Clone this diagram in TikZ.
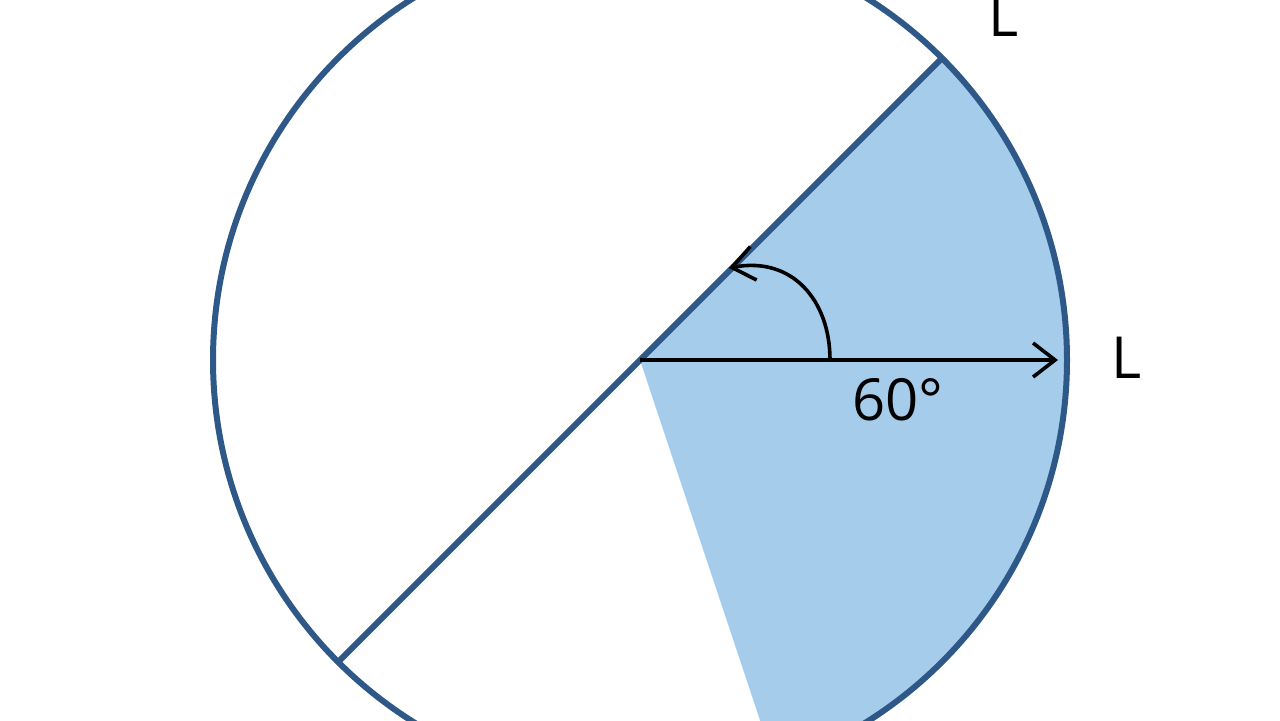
\documentclass[tikz,border=0pt]{standalone}
\usepackage{fontspec}
\setmainfont{Open Sans}
\usetikzlibrary{arrows.meta,calc}
\definecolor{rim}{RGB}{46,88,135}
\definecolor{sectorblue}{RGB}{166,204,235}
\tikzset{
  rimline/.style={draw=rim, line width=3pt},
  blackarrow/.style={draw=black, line width=1.8pt, -{Straight Barb[length=11pt,width=17pt,line width=1.8pt]}},
  lbl/.style={font=\fontsize{29}{34}\selectfont, inner sep=0pt}
}
\begin{document}
\begin{tikzpicture}[x=0.5pt,y=-0.5pt]
\useasboundingbox (0,0) rectangle (1280,720);
\clip (0,0) rectangle (1280,720);
\fill[white] (0,0) rectangle (1280,720);
\coordinate (O) at (640,360);
% shaded sector from -71.57 deg to 45 deg (math angles, y flipped)
\fill[sectorblue] (O) -- ++(-45:427) arc[start angle=-45, end angle=71.57, radius=427] -- cycle;
\draw[rimline] (O) circle[radius=427];
\coordinate (A) at ($(O)+(-45:427)$);
\coordinate (B) at ($(O)+(135:427)$);
\draw[rimline] (B) -- (A);
\coordinate (E) at (1058,360);
\draw[blackarrow] (O) -- (E);
\coordinate (S) at (830,360);
\coordinate (T) at (729,268);
\draw[blackarrow] (S) .. controls (830,300) and (792,256) .. (T);
\node[lbl] (L1) at (1004,16) {L};
\node[lbl] (L2) at (1127,358) {L};
\node[lbl] (ang) at (898,400) {60°};
\end{tikzpicture}
\end{document}
